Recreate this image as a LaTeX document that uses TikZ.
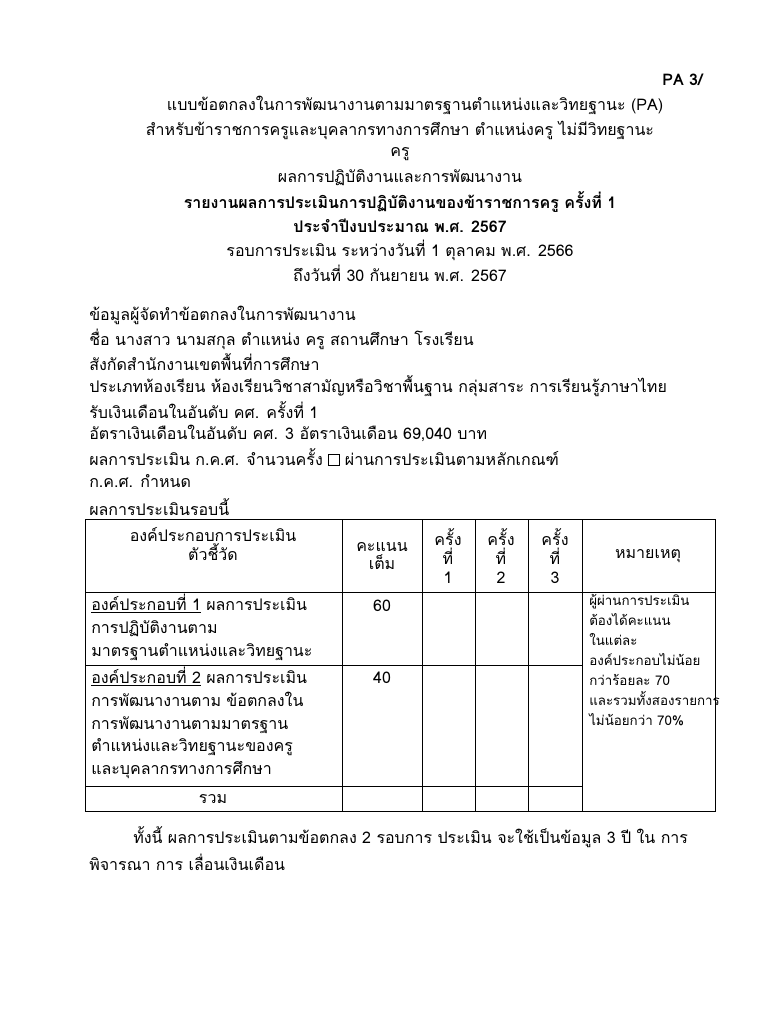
\documentclass[tikz,border=0pt]{standalone}
\usepackage{fontspec}
\setmainfont[Script=Thai]{Loma}
\newcommand{\mybox}{\tikz[baseline=0pt]\draw[line width=0.5pt] (0,0) rectangle (8pt,8pt);}
\begin{document}
\begin{tikzpicture}[x=0.75pt,y=-0.75pt,
  t/.style={anchor=west,inner sep=0pt,font=\fontsize{12}{14}\selectfont},
  c/.style={anchor=center,inner sep=0pt,font=\fontsize{12}{14}\selectfont,align=center},
  cell/.style={anchor=north west,inner sep=0pt,font=\fontsize{12}{17}\selectfont,align=left},
  ln/.style={line width=0.6pt}]
\useasboundingbox (0,0) rectangle (768,1024);
\node[t,anchor=east,font=\fontsize{12}{14}\bfseries\selectfont] (pa) at (703,80) {PA 3/};
\node[c] (h1) at (415,105) {แบบข้อตกลงในการพัฒนางานตามมาตรฐานตำแหน่งและวิทยฐานะ (PA)};
\node[c] (h2) at (400,130) {สำหรับข้าราชการครูและบุคลากรทางการศึกษา ตำแหน่งครู ไม่มีวิทยฐานะ};
\node[c] (h3) at (400,154) {ครู};
\node[c] (h4) at (400,178) {ผลการปฏิบัติงานและการพัฒนางาน};
\node[c,font=\fontsize{12}{14}\bfseries\selectfont] (h5) at (400,202) {รายงานผลการประเมินการปฏิบัติงานของข้าราชการครู ครั้งที่ 1};
\node[c,font=\fontsize{12}{14}\bfseries\selectfont] (h6) at (400,226) {ประจำปีงบประมาณ พ.ศ. 2567};
\node[c] (h7) at (400,250) {รอบการประเมิน ระหว่างวันที่ 1 ตุลาคม พ.ศ. 2566};
\node[c] (h8) at (400,273) {ถึงวันที่ 30 กันยายน พ.ศ. 2567};
\node[t] (p1) at (89,315) {ข้อมูลผู้จัดทำข้อตกลงในการพัฒนางาน};
\node[t] (p2) at (89,339) {ชื่อ นางสาว นามสกุล ตำแหน่ง ครู สถานศึกษา โรงเรียน};
\node[t] (p3) at (89,362) {สังกัดสำนักงานเขตพื้นที่การศึกษา};
\node[t] (p4) at (89,386) {ประเภทห้องเรียน ห้องเรียนวิชาสามัญหรือวิชาพื้นฐาน กลุ่มสาระ การเรียนรู้ภาษาไทย};
\node[t] (p5) at (89,410) {รับเงินเดือนในอันดับ คศ. ครั้งที่ 1};
\node[t] (p6) at (89,433) {อัตราเงินเดือนในอันดับ คศ. 3 อัตราเงินเดือน 69,040 บาท};
\node[t] (p7) at (89,457) {ผลการประเมิน ก.ค.ศ. จำนวนครั้ง \mybox{} ผ่านการประเมินตามหลักเกณฑ์};
\node[t] (p8) at (89,481) {ก.ค.ศ. กำหนด};
\node[t] (p9) at (89,507) {ผลการประเมินรอบนี้};
% table
\draw[ln] (85,519) rectangle (715,811);
\foreach \x in {342,422,475,528,582} \draw[ln] (\x,519) -- (\x,811);
\draw[ln] (85,592) -- (715,592);
\draw[ln] (85,665) -- (582,665);
\draw[ln] (85,786) -- (582,786);
\node[c] (th1) at (213,544) {องค์ประกอบการประเมิน\\ตัวชี้วัด};
\node[c] (th2) at (382,556) {คะแนน\\เต็ม};
\node[c] (th3) at (448,556) {ครั้ง\\ที่\\1};
\node[c] (th4) at (501,556) {ครั้ง\\ที่\\2};
\node[c] (th5) at (555,556) {ครั้ง\\ที่\\3};
\node[c] (th6) at (648,556) {หมายเหตุ};
\node[cell,text width=180pt] (r1) at (91,594) {\underline{องค์ประกอบที่ 1} ผลการประเมิน\\การปฏิบัติงานตาม\\มาตรฐานตำแหน่งและวิทยฐานะ};
\node[c] (s1) at (382,606) {60};
\node[cell,text width=180pt] (r2) at (91,667) {\underline{องค์ประกอบที่ 2} ผลการประเมิน\\การพัฒนางานตาม ข้อตกลงใน\\การพัฒนางานตามมาตรฐาน\\ตำแหน่งและวิทยฐานะของครู\\และบุคลากรทางการศึกษา};
\node[c] (s2) at (382,678) {40};
\node[c] (tot) at (213,799) {รวม};
\node[cell,font=\fontsize{10}{15}\selectfont,text width=95pt] (rm) at (589,594) {ผู้ผ่านการประเมิน\\ต้องได้คะแนน\\ในแต่ละ\\องค์ประกอบไม่น้อย\\กว่าร้อยละ 70\\และรวมทั้งสองรายการ\\ไม่น้อยกว่า 70\%};
\node[t] (f1) at (133,837) {ทั้งนี้ ผลการประเมินตามข้อตกลง 2 รอบการ ประเมิน จะใช้เป็นข้อมูล 3 ปี ใน การ};
\node[t] (f2) at (89,862) {พิจารณา การ เลื่อนเงินเดือน};
\end{tikzpicture}
\end{document}
